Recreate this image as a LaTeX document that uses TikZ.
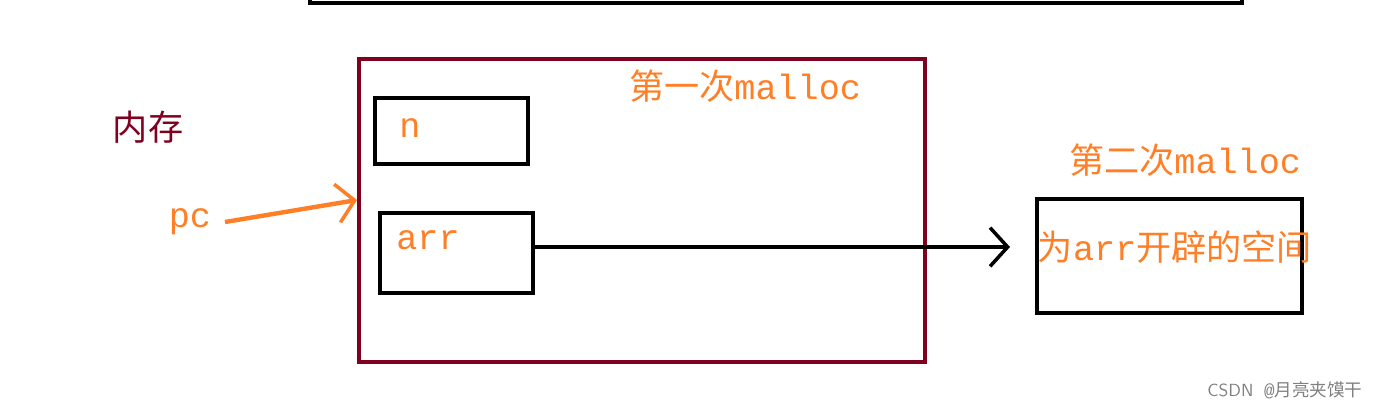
\documentclass[tikz,border=0pt]{standalone}
\usepackage{fontspec}
\setmainfont{Liberation Mono}
\newfontfamily\cjk{Noto Sans CJK SC}
\usetikzlibrary{arrows.meta}
\definecolor{dred}{HTML}{800020}
\definecolor{org}{HTML}{FF7F27}
\tikzset{lbl/.style={text=org,font=\fontsize{20}{24}\selectfont,inner sep=0pt},
 box/.style={draw=black,line width=2.2pt},
 hd/.style={-{Straight Barb[length=10pt,width=22pt,line width=2pt]}}}
\begin{document}
\begin{tikzpicture}[x=0.02cm,y=-0.02cm]
\useasboundingbox[fill=white] (0,0) rectangle (1388,410);
\draw[box] (310,-10) rectangle (1242,3);
\draw[draw=dred,line width=2.6pt] (359,59) rectangle (925,362);
\node[lbl,text=dred] (mem) at (148,127) {\cjk 内存};
\node[lbl] (m1) at (745,86) {{\cjk 第一次}malloc};
\draw[box] (375,98) rectangle (528,164);
\node[lbl] (n) at (410,128) {n};
\draw[box] (380,213) rectangle (533,293);
\coordinate (arrR) at (533,247);
\node[lbl] (arr) at (428,240) {arr};
\node[lbl] (pc) at (190,222) {pc};
\coordinate (pcs) at (225,222);
\coordinate (pce) at (357,200);
\draw[hd,draw=org,line width=2.5pt] (pcs) -- (pce);
\draw[box] (1037,199) rectangle (1302,313);
\coordinate (tgt) at (1010,247);
\draw[hd,line width=2.5pt] (arrR) -- (tgt);
\node[lbl] (sp) at (1175,247) {{\cjk 为}arr{\cjk 开辟的空间}};
\node[lbl] (m2) at (1185,160) {{\cjk 第二次}malloc};
\node[text=gray,font=\fontsize{10}{12}\selectfont,inner sep=0pt] (wm) at (1285,390) {{\sffamily CSDN} @{\cjk 月亮夹馍干}};
\end{tikzpicture}
\end{document}
